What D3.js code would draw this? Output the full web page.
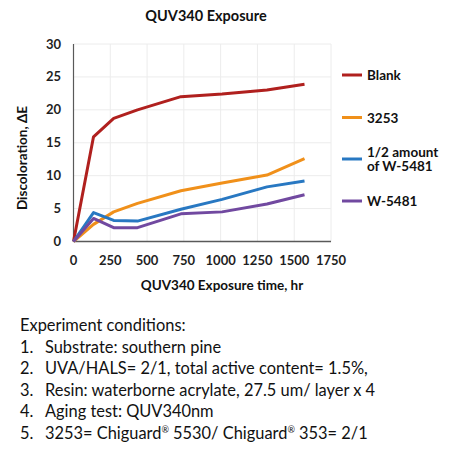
<!DOCTYPE html>
<html>
<head>
<meta charset="utf-8">
<script src="https://cdn.jsdelivr.net/npm/d3@7"></script>
<style>
  body { margin: 0; background: #fff; }
  svg { display: block; }
</style>
</head>
<body>
<div id="chart"></div>
<script>
// exposure times (hr)
const hours = [0, 136, 273, 435, 730, 1010, 1315, 1570];

const blank = [0, 15.9, 18.7, 20.0, 22.0, 22.4, 23.0, 23.9];
const s3253 = [0, 2.6, 4.5, 5.8, 7.7, 8.9, 10.1, 12.6];
const halfW5481 = [0, 4.4, 3.2, 3.1, 4.9, 6.4, 8.3, 9.2];
const w5481 = [0, 3.5, 2.1, 2.1, 4.2, 4.5, 5.7, 7.1];

const seriesNames = ["Blank", "3253", "1/2 amount\nof W-5481", "W-5481"];
const seriesColors = ["#b0201e", "#f0901a", "#2878c2", "#7149a0"];

const xTicks = [0, 250, 500, 750, 1000, 1250, 1500, 1750];
const yTicks = [0, 5, 10, 15, 20, 25, 30];

const noteTitle = "Experiment conditions:";
const noteNums = ["1.", "2.", "3.", "4.", "5."];
const notes = [
  "Substrate: southern pine",
  "UVA/HALS= 2/1, total active content= 1.5%,",
  "Resin: waterborne acrylate, 27.5 um/ layer x 4",
  "Aging test: QUV340nm",
  "3253= Chiguard\u00ae 5530/ Chiguard\u00ae 353= 2/1"
];

const width = 454, height = 461;
const font = "Lato, sans-serif";

const svg = d3.select("#chart").append("svg")
    .attr("width", width)
    .attr("height", height)
    .attr("font-family", font);

svg.append("rect").attr("width", width).attr("height", height).attr("fill", "#fff");

const x = d3.scaleLinear().domain([0, 1750]).range([73.5, 331]);
const y = d3.scaleLinear().domain([0, 30]).range([241.5, 44]);

// grid
svg.append("g")
    .selectAll("line")
    .data(yTicks.slice(1))
    .join("line")
    .attr("x1", x(0)).attr("x2", x(1750))
    .attr("y1", d => y(d)).attr("y2", d => y(d))
    .attr("stroke", "#ececec");

svg.append("g")
    .selectAll("line")
    .data(xTicks.slice(1))
    .join("line")
    .attr("x1", d => x(d)).attr("x2", d => x(d))
    .attr("y1", y(0)).attr("y2", y(30))
    .attr("stroke", "#ececec");

// axes
svg.append("line")
    .attr("x1", x(0)).attr("x2", x(0))
    .attr("y1", y(0)).attr("y2", y(30))
    .attr("stroke", "#595959").attr("stroke-width", 1.2);
svg.append("line")
    .attr("x1", x(0)).attr("x2", x(1750))
    .attr("y1", y(0)).attr("y2", y(0))
    .attr("stroke", "#595959").attr("stroke-width", 1.5);

svg.append("g")
    .attr("font-size", 13).attr("font-weight", "bold").attr("fill", "#1f1f1f")
    .attr("text-anchor", "end")
    .selectAll("text")
    .data(yTicks)
    .join("text")
    .attr("x", 61)
    .attr("y", d => y(d) + 4.5)
    .text(d => d);

svg.append("g")
    .attr("font-size", 13).attr("font-weight", "bold").attr("fill", "#1f1f1f")
    .attr("text-anchor", "middle")
    .selectAll("text")
    .data(xTicks)
    .join("text")
    .attr("x", d => x(d))
    .attr("y", 265)
    .text(d => d);

// titles
svg.append("text")
    .attr("x", 206).attr("y", 21)
    .attr("text-anchor", "middle")
    .attr("font-size", 14.5).attr("font-weight", "bold").attr("fill", "#111")
    .text("QUV340 Exposure");

svg.append("text")
    .attr("x", 222).attr("y", 290)
    .attr("text-anchor", "middle")
    .attr("font-size", 13.5).attr("font-weight", "bold").attr("fill", "#111")
    .text("QUV340 Exposure time, hr");

svg.append("text")
    .attr("transform", "translate(27,158) rotate(-90)")
    .attr("text-anchor", "middle")
    .attr("font-size", 13.5).attr("font-weight", "bold").attr("fill", "#111")
    .text("Discoloration, \u0394E");

// lines
const allSeries = [blank, s3253, halfW5481, w5481];
const line = d3.line()
    .x((d, i) => x(hours[i]))
    .y(d => y(d));

svg.append("g")
    .selectAll("path")
    .data(allSeries)
    .join("path")
    .attr("fill", "none")
    .attr("stroke", (d, i) => seriesColors[i])
    .attr("stroke-width", 3)
    .attr("stroke-linejoin", "round")
    .attr("d", line);

// legend
const legendY = [75, 117.5, 159, 201];
const legend = svg.append("g")
    .selectAll("g")
    .data(seriesNames)
    .join("g")
    .attr("transform", (d, i) => `translate(342,${legendY[i]})`);

legend.append("line")
    .attr("x1", 0).attr("x2", 20)
    .attr("stroke", (d, i) => seriesColors[i])
    .attr("stroke-width", 3);

legend.append("text")
    .attr("font-size", 13.5).attr("font-weight", "bold").attr("fill", "#111")
    .each(function(d) {
        const parts = d.split("\n");
        const t = d3.select(this);
        parts.forEach((p, j) => {
            t.append("tspan")
                .attr("x", 25)
                .attr("y", (j - (parts.length - 1) / 2) * 14.5 + 5)
                .text(p);
        });
    });

// notes below chart
const notesG = svg.append("g")
    .attr("font-size", 16.4).attr("fill", "#111");

notesG.append("text")
    .attr("x", 20).attr("y", 331)
    .text(noteTitle);

notesG.selectAll("text.num")
    .data(noteNums)
    .join("text")
    .attr("class", "num")
    .attr("x", 20)
    .attr("y", (d, i) => 331 + (i + 1) * 21.5)
    .text(d => d);

// ® drawn as small superscript, as in the picture
notesG.selectAll("text.note")
    .data(notes)
    .join("text")
    .attr("class", "note")
    .attr("x", 45)
    .attr("y", (d, i) => 331 + (i + 1) * 21.5)
    .each(function(d) {
        const t = d3.select(this);
        d.split("\u00ae").forEach((p, j) => {
            if (j > 0) {
                t.append("tspan")
                    .attr("font-size", 9)
                    .attr("dy", -6)
                    .text("\u00ae");
                t.append("tspan").attr("dy", 6).text(p);
            } else {
                t.append("tspan").text(p);
            }
        });
    });
</script>
</body>
</html>
